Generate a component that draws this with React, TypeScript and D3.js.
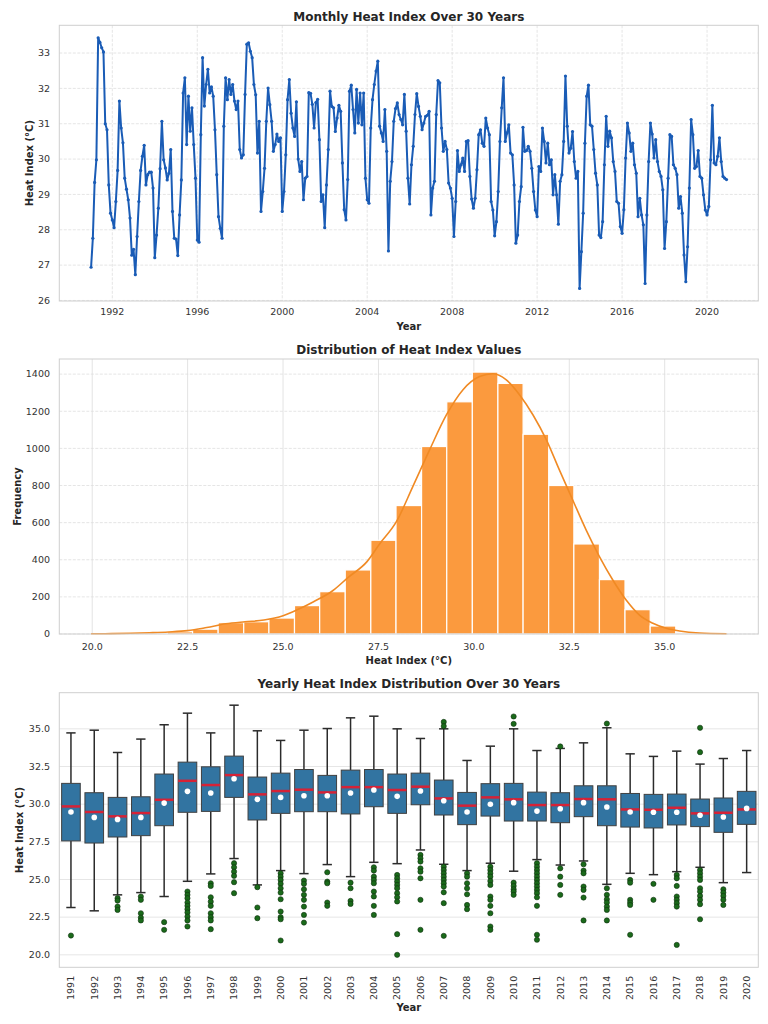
import React, { useEffect, useRef } from 'react';
import * as d3 from 'd3';

// ---- data ----
const years = [1991, 1992, 1993, 1994, 1995, 1996, 1997, 1998, 1999, 2000,
    2001, 2002, 2003, 2004, 2005, 2006, 2007, 2008, 2009, 2010,
    2011, 2012, 2013, 2014, 2015, 2016, 2017, 2018, 2019, 2020];

// monthly mean heat index, one row per year (Jan..Dec)
const monthlyHeatIndex = [
    26.94, 27.76, 29.34, 29.98, 33.43, 33.3, 33.15, 33.03, 31.0, 30.83, 29.27, 28.47,
    28.28, 28.06, 28.8, 29.68, 31.64, 30.88, 30.46, 29.46, 29.15, 28.85, 28.33, 27.28,
    27.45, 26.73, 27.81, 28.8, 29.68, 30.08, 30.39, 29.27, 29.56, 29.63, 29.63, 29.18,
    27.21, 27.85, 28.61, 29.73, 31.07, 29.98, 29.75, 29.41, 29.6, 30.27, 28.52, 27.76,
    27.74, 27.27, 28.42, 29.41, 31.87, 32.3, 30.41, 31.78, 30.79, 31.45, 30.41, 29.46,
    27.71, 27.65, 30.69, 32.87, 31.5, 32.11, 32.54, 31.87, 32.04, 31.78, 30.83, 29.56,
    28.37, 28.04, 27.76, 30.93, 32.3, 31.68, 32.25, 31.83, 32.11, 31.64, 31.4, 31.64,
    30.27, 30.03, 30.12, 31.83, 33.25, 33.29, 33.05, 32.87, 32.11, 31.82, 30.17, 31.07,
    28.52, 29.08, 29.74, 31.07, 32.01, 31.54, 31.07, 30.22, 30.41, 30.71, 30.5, 30.6,
    28.52, 29.08, 30.12, 31.68, 32.25, 31.3, 30.88, 30.64, 31.62, 30.0, 29.65, 29.93,
    28.85, 29.46, 29.51, 31.88, 31.86, 31.55, 30.88, 31.6, 31.69, 30.55, 28.8, 28.99,
    28.06, 29.27, 30.27, 31.92, 31.49, 31.45, 30.78, 31.16, 31.52, 31.35, 29.89, 28.57,
    28.28, 29.42, 31.92, 32.09, 31.4, 30.74, 31.97, 31.02, 31.87, 30.97, 31.87, 29.46,
    28.85, 28.75, 30.88, 31.68, 32.11, 32.49, 32.77, 30.93, 30.74, 30.5, 31.4, 30.22,
    27.4, 29.37, 29.93, 31.07, 31.43, 31.59, 31.26, 31.12, 30.97, 31.83, 30.79, 29.46,
    28.73, 29.84, 30.36, 31.26, 31.85, 31.49, 31.21, 30.83, 31.02, 31.21, 31.24, 31.35,
    28.42, 29.18, 29.37, 31.26, 32.22, 32.16, 30.88, 30.22, 30.5, 30.27, 29.32, 29.18,
    28.89, 27.81, 28.8, 30.24, 29.65, 29.84, 30.03, 29.65, 30.5, 30.52, 29.51, 28.87,
    28.61, 28.89, 29.7, 30.69, 30.83, 30.45, 30.36, 31.16, 30.88, 30.69, 28.8, 28.56,
    27.83, 28.23, 29.08, 30.5, 31.45, 32.3, 30.5, 30.74, 30.97, 30.17, 30.12, 29.27,
    27.62, 27.85, 28.8, 29.22, 30.9, 30.22, 30.24, 30.36, 30.22, 29.74, 29.08, 28.56,
    28.37, 29.79, 29.65, 30.88, 30.5, 29.89, 30.45, 29.84, 29.98, 28.99, 29.56, 28.99,
    28.16, 29.37, 29.56, 30.5, 32.35, 30.93, 30.17, 30.31, 30.78, 29.93, 29.46, 29.65,
    26.34, 27.38, 28.47, 30.45, 31.78, 32.09, 30.97, 30.93, 30.27, 29.6, 29.27, 27.85,
    27.78, 28.23, 29.84, 31.21, 30.36, 30.79, 30.6, 29.93, 29.65, 28.8, 28.75, 28.09,
    27.9, 28.57, 30.03, 31.02, 30.74, 30.22, 30.45, 29.84, 29.6, 28.37, 28.89, 28.42,
    28.14, 26.48, 28.42, 29.93, 31.02, 30.71, 30.03, 30.55, 29.93, 29.65, 29.51, 29.13,
    27.47, 28.23, 29.46, 30.69, 30.64, 29.84, 29.74, 29.56, 28.61, 28.94, 28.47, 27.29,
    26.53, 27.52, 29.18, 31.12, 30.69, 29.74, 29.79, 30.24, 29.51, 29.46, 28.99, 28.56,
    28.42, 28.66, 29.98, 31.52, 29.89, 29.84, 30.08, 30.6, 29.93, 29.51, 29.46, 29.42
];
const lineYTicks = [26, 27, 28, 29, 30, 31, 32, 33];
const lineXTicks = [1992, 1996, 2000, 2004, 2008, 2012, 2016, 2020];

// histogram of daily values
const binEdges = [19.97, 20.64, 21.30, 21.97, 22.63, 23.30, 23.97, 24.63, 25.30, 25.96,
    26.63, 27.30, 27.96, 28.63, 29.29, 29.96, 30.63, 31.29, 31.96, 32.62,
    33.29, 33.96, 34.62, 35.29, 35.95, 36.62];
const binCounts = [1, 2, 5, 12, 26, 61, 66, 86, 153, 228, 345, 505, 692, 1010, 1251,
    1411, 1350, 1076, 800, 485, 293, 131, 43, 7, 2];
const kdeX = [19.97, 20.5, 21.0, 21.5, 22.0, 22.5, 23.0, 23.5, 24.0, 24.5, 25.0, 25.4,
    25.8, 26.3, 26.7, 27.2, 27.53, 27.97, 28.4, 28.84, 29.28, 29.71, 30.15, 30.5,
    30.85, 31.2, 31.55, 31.9, 32.24, 32.59, 32.94, 33.29, 33.64, 33.99, 34.34,
    34.69, 35.04, 35.39, 35.91, 36.62];
const kdeY = [1, 2, 4, 7, 11, 18, 35, 55, 66, 75, 98, 133, 174, 233, 304, 390, 485, 605,
    794, 992, 1180, 1315, 1387, 1402, 1369, 1288, 1180, 1046, 884, 722, 561, 417,
    291, 183, 102, 58, 31, 16, 5, 1];
const histXTicks = [20, 22.5, 25, 27.5, 30, 32.5, 35];
const histYTicks = [0, 200, 400, 600, 800, 1000, 1200, 1400];

// yearly box plot stats
const whiskerHigh = [34.73, 34.91, 33.43, 34.32, 35.27, 36.04, 34.73, 36.57, 34.87, 34.23,
    34.91, 35.02, 35.73, 35.84, 35.0, 34.36, 35.0, 32.9, 33.85, 35.0,
    33.56, 33.7, 34.07, 35.07, 33.34, 33.17, 33.52, 32.66, 33.03, 33.56];
const q3 = [31.38, 30.76, 30.45, 30.49, 32.0, 32.79, 32.48, 33.19, 31.8, 32.06,
    32.3, 31.91, 32.26, 32.3, 32.0, 32.06, 31.6, 30.78, 31.36, 31.38,
    30.8, 30.76, 31.22, 31.22, 30.71, 30.65, 30.67, 30.34, 30.41, 30.85];
const medians = [29.85, 29.48, 29.19, 29.41, 30.29, 31.55, 31.27, 31.93, 30.65, 30.87,
    30.96, 30.78, 31.13, 31.13, 30.94, 31.16, 30.38, 29.9, 30.45, 30.32,
    29.94, 29.94, 30.34, 30.32, 29.65, 29.63, 29.76, 29.39, 29.43, 29.65];
const means = [29.48, 29.12, 28.99, 29.12, 30.07, 30.85, 30.74, 31.69, 30.32, 30.45,
    30.56, 30.56, 30.74, 30.94, 30.52, 30.87, 30.23, 29.48, 29.99, 30.1,
    29.54, 29.7, 30.1, 29.81, 29.48, 29.46, 29.46, 29.26, 29.15, 29.72];
const q1 = [27.56, 27.42, 27.82, 27.91, 28.57, 29.46, 29.52, 30.45, 28.95, 29.39,
    29.5, 29.5, 29.35, 29.83, 29.39, 29.96, 29.28, 28.64, 29.21, 28.88,
    28.88, 28.77, 29.17, 28.57, 28.48, 28.42, 28.62, 28.51, 28.13, 28.66];
const whiskerLow = [23.14, 22.92, 23.98, 24.13, 23.87, 24.88, 25.37, 26.39, 24.64, 25.59,
    25.39, 25.99, 25.19, 26.14, 26.05, 26.96, 26.01, 25.59, 26.08, 25.55,
    26.32, 25.96, 26.23, 24.68, 25.41, 25.32, 25.52, 25.81, 24.79, 25.46];
const outliers = [
    [21.28],
    [],
    [23.76, 23.6, 23.2, 22.98],
    [23.87, 23.65, 22.76, 22.47, 22.28],
    [22.17, 21.66],
    [24.2, 23.98, 23.76, 23.47, 23.25, 23.03, 22.81, 22.54, 22.28, 21.88],
    [24.75, 24.57, 23.82, 23.53, 23.25, 22.76, 22.5, 22.28, 21.7],
    [26.08, 25.81, 25.52, 25.24, 24.82, 24.09],
    [24.49, 23.14, 22.43],
    [25.41, 25.19, 24.97, 24.71, 24.42, 24.13, 23.69, 22.87, 22.5, 22.36, 20.95],
    [24.93, 24.71, 24.35, 23.98, 23.65, 23.2, 22.65, 22.14],
    [25.48, 24.86, 24.75, 23.47, 23.25],
    [24.79, 24.42, 23.58, 23.38],
    [25.81, 25.59, 25.19, 24.97, 24.75, 24.2, 23.87, 23.25, 22.65],
    [25.3, 25.08, 24.86, 24.64, 24.42, 24.09, 23.82, 23.54, 21.37, 20.0],
    [26.63, 26.41, 26.19, 25.74, 25.52, 25.08, 23.65, 21.66],
    [35.46, 35.18, 25.85, 25.63, 25.41, 25.19, 24.97, 24.75, 24.53, 24.15, 23.43, 21.26],
    [25.41, 25.19, 24.75, 24.42, 24.02, 23.31, 23.03],
    [25.85, 25.63, 25.41, 25.19, 24.9, 24.64, 23.87, 23.65, 23.25, 22.76, 21.88, 21.66],
    [35.82, 35.33, 24.79, 24.57, 24.35, 24.2, 23.98],
    [26.08, 25.85, 25.63, 25.41, 25.19, 24.97, 24.75, 24.53, 24.31, 24.09, 23.82, 23.25, 21.33, 21.0],
    [33.83, 25.74, 25.19, 24.64, 23.98],
    [26.01, 25.59, 25.41, 24.53, 24.31, 23.8, 22.28],
    [35.35, 24.42, 23.98, 23.69, 23.47, 23.2, 22.98, 22.28],
    [24.97, 24.79, 23.65, 23.47, 23.31, 21.33],
    [24.71, 23.65],
    [25.3, 25.08, 24.57, 23.87, 23.65, 23.43, 23.2, 20.66],
    [35.07, 33.45, 25.63, 25.41, 25.19, 24.97, 24.42, 24.2, 23.91, 23.65, 23.36, 22.36],
    [24.35, 24.13, 23.91, 23.65, 23.31],
    []
];
const boxYTicks = [20, 22.5, 25, 27.5, 30, 32.5, 35];

const FONT = "'DejaVu Sans', 'Liberation Sans', sans-serif";
const TEXT = '#333333';
const GRID = '#dedede';
const SPINE = '#cfcfcf';
const L = 59.3, R = 758.3;

function App() {
    const ref = useRef<SVGSVGElement>(null);

    useEffect(() => {
        const svg = d3.select(ref.current);
        svg.selectAll('*').remove();

        const title = (txt: string, y: number) => svg.append('text')
            .attr('x', (L + R) / 2).attr('y', y)
            .attr('text-anchor', 'middle')
            .style('font-family', FONT).style('font-size', '12px').style('font-weight', 'bold')
            .style('fill', '#262626').text(txt);

        const xLabel = (txt: string, y: number) => svg.append('text')
            .attr('x', (L + R) / 2).attr('y', y)
            .attr('text-anchor', 'middle')
            .style('font-family', FONT).style('font-size', '10px').style('font-weight', 'bold')
            .style('fill', '#262626').text(txt);

        const yLabel = (txt: string, x: number, yc: number) => svg.append('text')
            .attr('transform', 'translate(' + x + ',' + yc + ') rotate(-90)')
            .attr('dy', '0.35em')
            .attr('text-anchor', 'middle')
            .style('font-family', FONT).style('font-size', '10px').style('font-weight', 'bold')
            .style('fill', '#262626').text(txt);

        const yTickLabels = (ticks: number[], y: any, fmt: (v: number) => string) => {
            svg.append('g').selectAll('text').data(ticks).enter().append('text')
                .attr('x', 50).attr('y', d => y(d)).attr('dy', '0.35em')
                .attr('text-anchor', 'end')
                .style('font-family', FONT).style('font-size', '9.5px').style('fill', TEXT)
                .text(d => fmt(d));
        };

        const frame = (t: number, b: number) => svg.append('rect')
            .attr('x', L).attr('y', t).attr('width', R - L).attr('height', b - t)
            .attr('fill', 'none').attr('stroke', SPINE).attr('stroke-width', 1);

        // ---------------- monthly line ----------------
        {
            const T = 25.3, B = 301;
            const t = monthlyHeatIndex.map((_, i) => 1991 + i / 12);
            const tPad = (t[t.length - 1] - t[0]) * 0.05;
            const x = d3.scaleLinear().domain([t[0] - tPad, t[t.length - 1] + tPad]).range([L, R]);
            const lo = d3.min(monthlyHeatIndex)!, hi = d3.max(monthlyHeatIndex)!;
            const vPad = (hi - lo) * 0.05;
            const y = d3.scaleLinear().domain([lo - vPad, hi + vPad]).range([B, T]);

            const grid = svg.append('g');
            grid.selectAll('.gx').data(lineXTicks).enter().append('line')
                .attr('x1', d => x(d)).attr('x2', d => x(d)).attr('y1', T).attr('y2', B)
                .attr('stroke', GRID).attr('stroke-dasharray', '3,1.5').attr('stroke-width', 0.8);
            grid.selectAll('.gy').data(lineYTicks).enter().append('line')
                .attr('x1', L).attr('x2', R).attr('y1', d => y(d)).attr('y2', d => y(d))
                .attr('stroke', GRID).attr('stroke-dasharray', '3,1.5').attr('stroke-width', 0.8);

            const line = d3.line<number>().x((_, i) => x(t[i])).y(d => y(d));
            svg.append('path').datum(monthlyHeatIndex)
                .attr('d', line).attr('fill', 'none')
                .attr('stroke', '#1a5cb6').attr('stroke-width', 2).attr('stroke-linejoin', 'round');
            svg.append('g').selectAll('circle').data(monthlyHeatIndex).enter().append('circle')
                .attr('cx', (_, i) => x(t[i])).attr('cy', d => y(d)).attr('r', 1.6)
                .attr('fill', '#1a5cb6');

            frame(T, B);
            yTickLabels(lineYTicks, y, d => String(d));
            svg.append('g').selectAll('text').data(lineXTicks).enter().append('text')
                .attr('x', d => x(d)).attr('y', B + 14)
                .attr('text-anchor', 'middle')
                .style('font-family', FONT).style('font-size', '9.5px').style('fill', TEXT)
                .text(d => String(d));
            title('Monthly Heat Index Over 30 Years', 20.5);
            xLabel('Year', 330);
            yLabel('Heat Index (°C)', 29.5, (T + B) / 2);
        }

        // ---------------- histogram ----------------
        {
            const T = 359, B = 634;
            const pad = (binEdges[binEdges.length - 1] - binEdges[0]) * 0.05;
            const x = d3.scaleLinear().domain([binEdges[0] - pad, binEdges[binEdges.length - 1] + pad]).range([L, R]);
            const y = d3.scaleLinear().domain([0, d3.max(binCounts)! * 1.05]).range([B, T]);

            const grid = svg.append('g');
            grid.selectAll('.gx').data(histXTicks).enter().append('line')
                .attr('x1', d => x(d)).attr('x2', d => x(d)).attr('y1', T).attr('y2', B)
                .attr('stroke', '#e3e3e3').attr('stroke-width', 1);
            grid.selectAll('.gy').data(histYTicks).enter().append('line')
                .attr('x1', L).attr('x2', R).attr('y1', d => y(d)).attr('y2', d => y(d))
                .attr('stroke', GRID).attr('stroke-dasharray', '3,1.5').attr('stroke-width', 0.8);

            svg.append('g').selectAll('rect').data(binCounts).enter().append('rect')
                .attr('x', (_, i) => x(binEdges[i]))
                .attr('width', (_, i) => x(binEdges[i + 1]) - x(binEdges[i]))
                .attr('y', d => y(d))
                .attr('height', d => B - y(d))
                .attr('fill', '#fb9a3e')
                .attr('stroke', '#ffffff').attr('stroke-width', 1.2);

            const kde = d3.line<number>().x((_, i) => x(kdeX[i])).y(d => y(d)).curve(d3.curveMonotoneX);
            svg.append('path').datum(kdeY).attr('d', kde)
                .attr('fill', 'none').attr('stroke', '#f08a24').attr('stroke-width', 1.6);

            frame(T, B);
            yTickLabels(histYTicks, y, d => String(d));
            svg.append('g').selectAll('text').data(histXTicks).enter().append('text')
                .attr('x', d => x(d)).attr('y', B + 15.5)
                .attr('text-anchor', 'middle')
                .style('font-family', FONT).style('font-size', '9.5px').style('fill', TEXT)
                .text(d => d.toFixed(1));
            title('Distribution of Heat Index Values', 354);
            xLabel('Heat Index (°C)', 663.5);
            yLabel('Frequency', 17, (T + B) / 2);
        }

        // ---------------- yearly box plots ----------------
        {
            const T = 692.7, B = 967.3;
            const allLow = d3.min([d3.min(whiskerLow)!, d3.min(outliers.flat())!])!;
            const allHigh = d3.max([d3.max(whiskerHigh)!, d3.max(outliers.flat())!])!;
            const pad = (allHigh - allLow) * 0.05;
            const y = d3.scaleLinear().domain([allLow - pad, allHigh + pad]).range([B, T]);
            const x = d3.scaleBand<number>().domain(years).range([L, R]).padding(0);
            const bw = x.bandwidth() * 0.8;

            svg.append('g').selectAll('line').data(boxYTicks).enter().append('line')
                .attr('x1', L).attr('x2', R).attr('y1', d => y(d)).attr('y2', d => y(d))
                .attr('stroke', '#e6e6e6').attr('stroke-width', 1);

            const g = svg.append('g');
            years.forEach((yr, i) => {
                const cx = x(yr)! + x.bandwidth() / 2;
                // whiskers + caps
                g.append('line').attr('x1', cx).attr('x2', cx).attr('y1', y(whiskerLow[i])).attr('y2', y(q1[i]))
                    .attr('stroke', '#2b2b2b').attr('stroke-width', 1.5);
                g.append('line').attr('x1', cx).attr('x2', cx).attr('y1', y(q3[i])).attr('y2', y(whiskerHigh[i]))
                    .attr('stroke', '#2b2b2b').attr('stroke-width', 1.5);
                [whiskerLow[i], whiskerHigh[i]].forEach(v => {
                    g.append('line').attr('x1', cx - bw / 4).attr('x2', cx + bw / 4)
                        .attr('y1', y(v)).attr('y2', y(v))
                        .attr('stroke', '#2b2b2b').attr('stroke-width', 1.5);
                });
                // box
                g.append('rect').attr('x', cx - bw / 2).attr('width', bw)
                    .attr('y', y(q3[i])).attr('height', y(q1[i]) - y(q3[i]))
                    .attr('fill', '#3274a1').attr('stroke', '#404040').attr('stroke-width', 1);
                // median
                g.append('line').attr('x1', cx - bw / 2).attr('x2', cx + bw / 2)
                    .attr('y1', y(medians[i])).attr('y2', y(medians[i]))
                    .attr('stroke', '#d62236').attr('stroke-width', 2.5);
                // mean
                g.append('circle').attr('cx', cx).attr('cy', y(means[i])).attr('r', 2.8)
                    .attr('fill', '#ffffff');
                // outliers
                g.selectAll('.o' + yr).data(outliers[i]).enter().append('circle')
                    .attr('cx', cx).attr('cy', d => y(d)).attr('r', 2.6)
                    .attr('fill', '#1a6a1a').attr('stroke', '#0f2f0f').attr('stroke-width', 0.6);
            });

            frame(T, B);
            yTickLabels(boxYTicks, y, d => d.toFixed(1));
            svg.append('g').selectAll('text').data(years).enter().append('text')
                .attr('transform', d => 'translate(' + (x(d)! + x.bandwidth() / 2) + ',' + (B + 8.5) + ') rotate(-90)')
                .attr('dy', '0.35em')
                .attr('text-anchor', 'end')
                .style('font-family', FONT).style('font-size', '9.5px').style('fill', TEXT)
                .text(d => String(d));
            title('Yearly Heat Index Distribution Over 30 Years', 687.5);
            xLabel('Year', 1010.5);
            yLabel('Heat Index (°C)', 19.5, (T + B) / 2);
        }
    }, []);

    return (
        <svg ref={ref} width={768} height={1024}
            style={{ position: 'absolute', left: 0, top: 0, background: '#ffffff' }} />
    );
}

export default App;
